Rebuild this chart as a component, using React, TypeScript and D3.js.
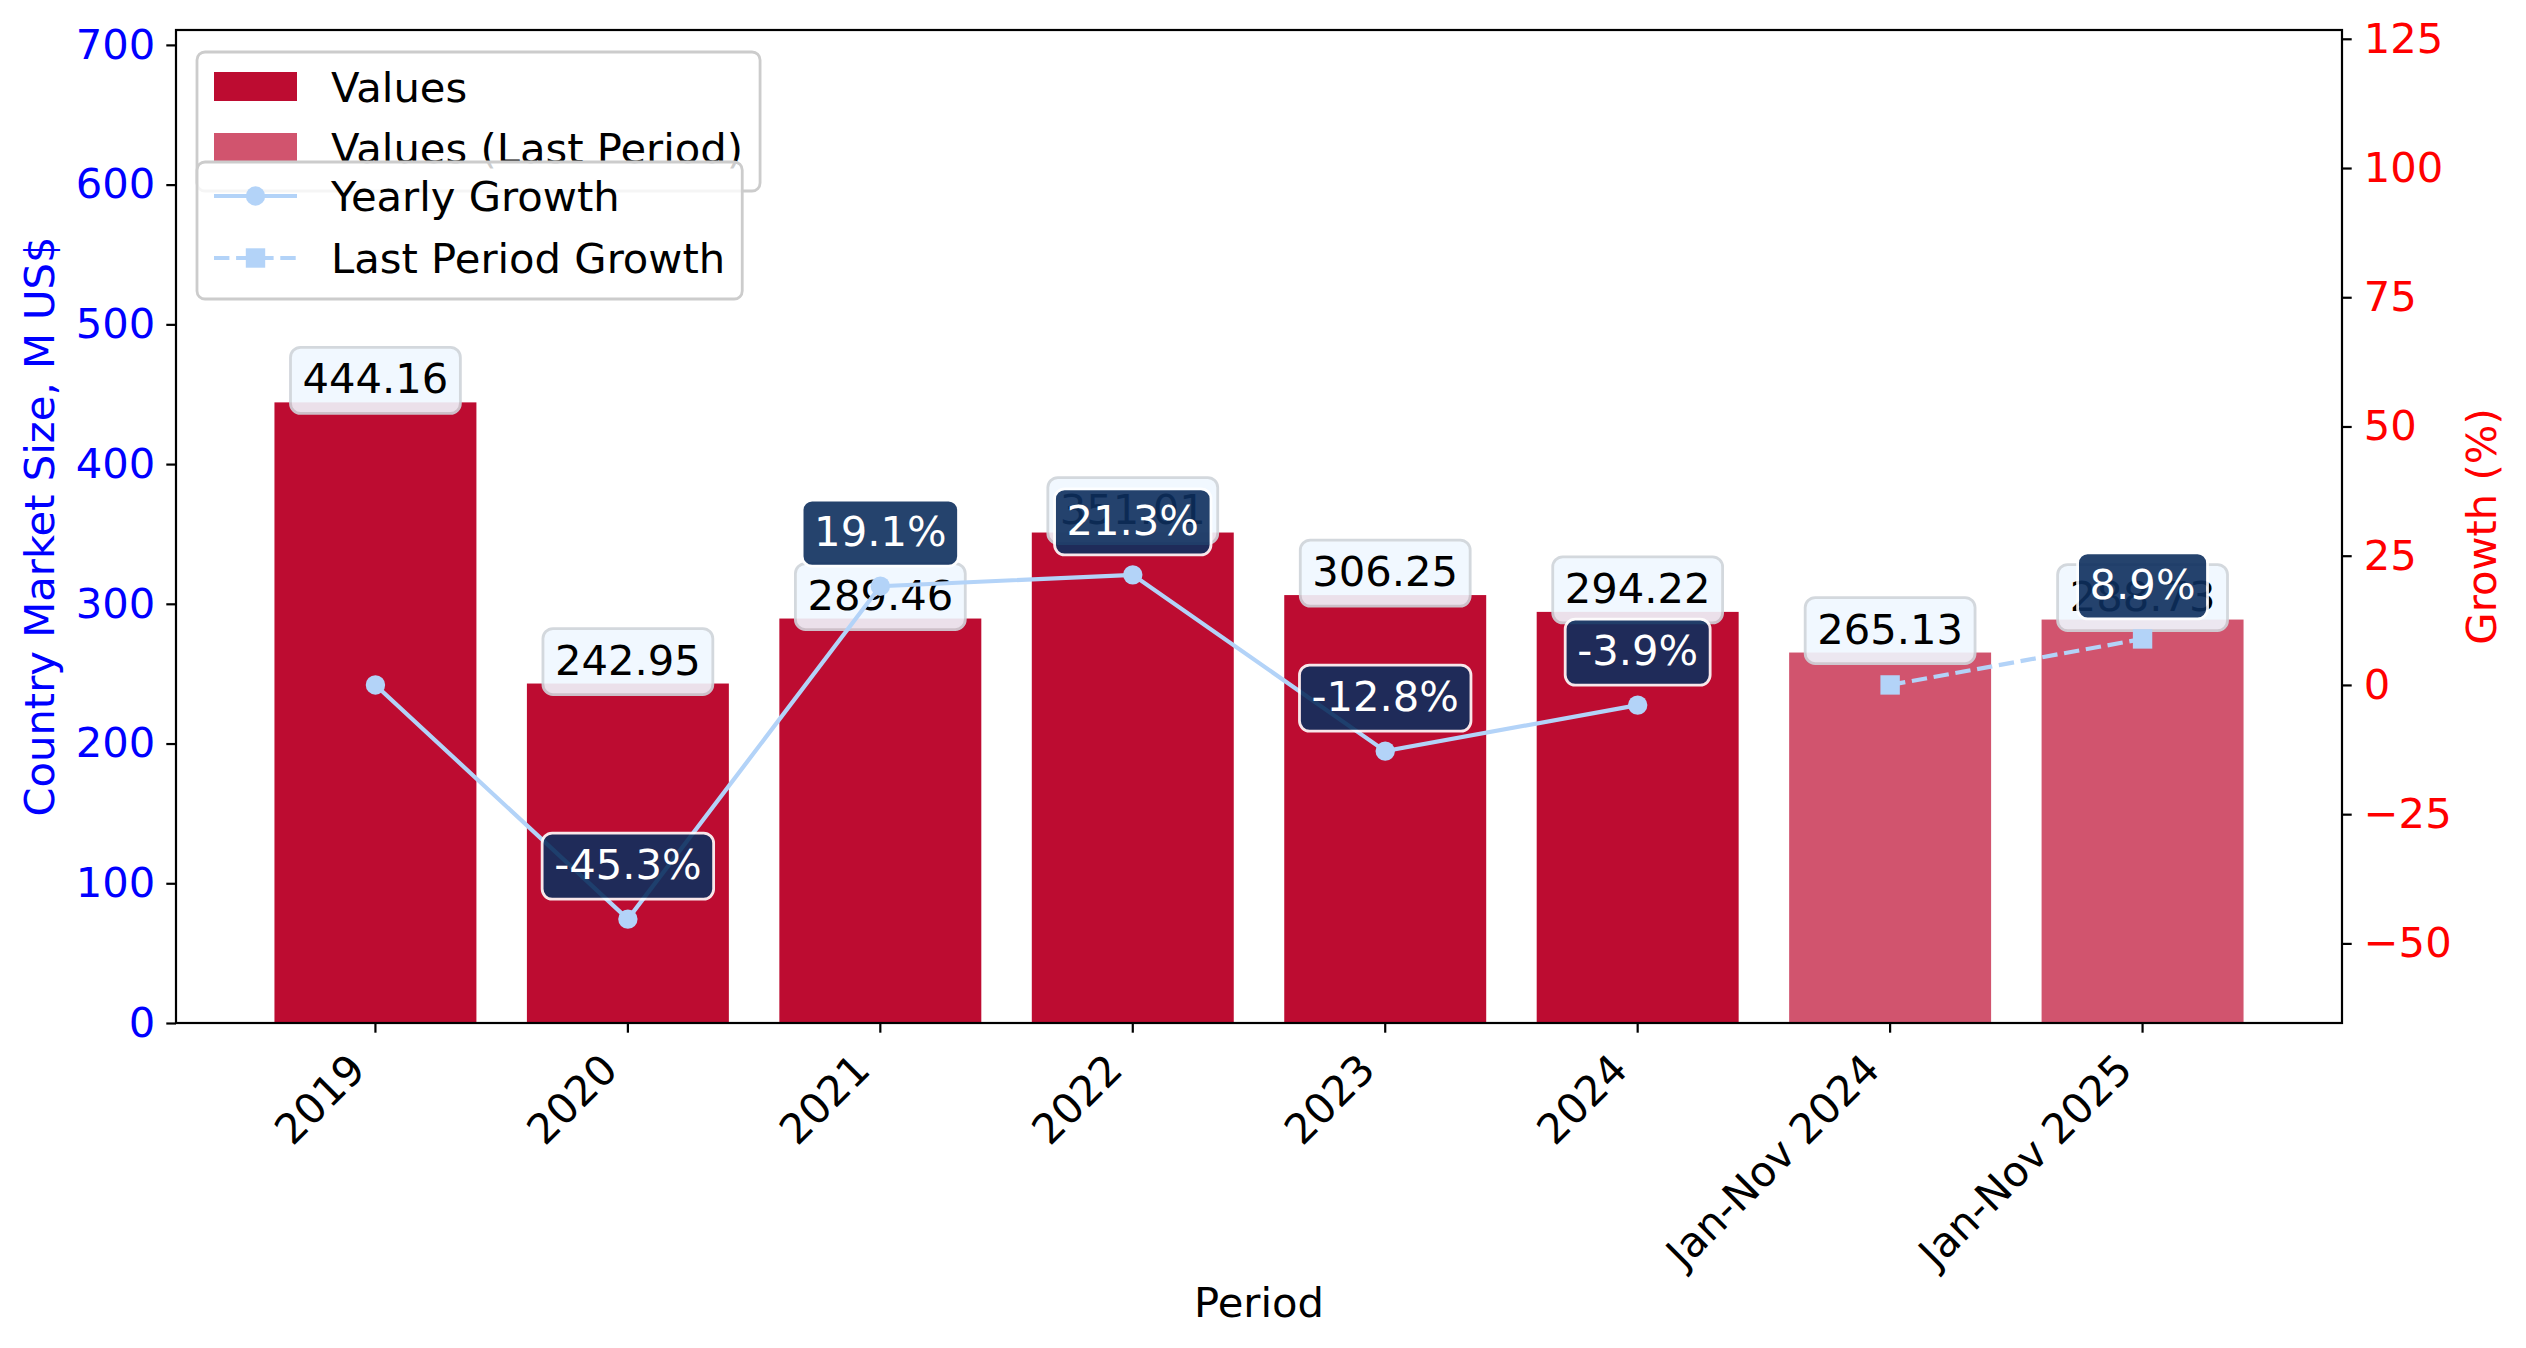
import { useEffect, useRef } from "react";
import * as d3 from "d3";

// Chart data
const periods = [
  "2019",
  "2020",
  "2021",
  "2022",
  "2023",
  "2024",
  "Jan-Nov 2024",
  "Jan-Nov 2025",
];
const values = [444.16, 242.95, 289.46, 351.01, 306.25, 294.22, 265.13, 288.73];
const isLastPeriod = [false, false, false, false, false, false, true, true];

const yearlyPeriods = ["2019", "2020", "2021", "2022", "2023", "2024"];
const yearlyGrowth = [0, -45.3, 19.1, 21.3, -12.8, -3.9];

const lastPeriods = ["Jan-Nov 2024", "Jan-Nov 2025"];
const lastGrowth = [0, 8.9];

const leftTicks = [0, 100, 200, 300, 400, 500, 600, 700];
const rightTicks = [-50, -25, 0, 25, 50, 75, 100, 125];

const barLegend = ["Values", "Values (Last Period)"];
const lineLegend = ["Yearly Growth", "Last Period Growth"];

const BAR = "#bd0c31";
const LINE = "#b3d3f8";
const NAVY = "#0e2f5e";
const FONT = "DejaVu Sans";
const FS = 41.7;

export default function App() {
  const svgRef = useRef<SVGSVGElement>(null);

  useEffect(() => {
    document.body.style.margin = "0";
    document.body.style.overflow = "hidden";
    if (!svgRef.current) return;

    const svg = d3.select(svgRef.current);
    svg.selectAll("*").remove();

    const width = 2526;
    const height = 1348;
    const plot = { left: 176, right: 2342, top: 30, bottom: 1023 };

    svg
      .attr("width", width)
      .attr("height", height)
      .style("font-family", FONT)
      .style("font-size", `${FS}px`);

    const x = d3
      .scaleBand<string>()
      .domain(periods)
      .range([plot.left, plot.right])
      .paddingInner(0.2)
      .paddingOuter(0.39);
    const cx = (p: string) => (x(p) as number) + x.bandwidth() / 2;

    const yLeft = d3
      .scaleLinear()
      .domain([0, 710.66])
      .range([plot.bottom, plot.top]);
    const yRight = d3
      .scaleLinear()
      .domain([-65.4, 126.7])
      .range([plot.bottom, plot.top]);

    // Bars
    svg
      .append("g")
      .selectAll("rect")
      .data(periods)
      .join("rect")
      .attr("x", (d) => x(d) as number)
      .attr("width", x.bandwidth())
      .attr("y", (_, i) => yLeft(values[i]))
      .attr("height", (_, i) => plot.bottom - yLeft(values[i]))
      .attr("fill", BAR)
      .attr("fill-opacity", (_, i) => (isLastPeriod[i] ? 0.7 : 1));

    // Boxed label helper
    const boxedLabel = (
      parent: d3.Selection<SVGGElement, unknown, null, undefined>,
      px: number,
      baseline: number,
      label: string,
      fill: string,
      stroke: string,
      textColor: string
    ) => {
      const g = parent.append("g");
      const rect = g.append("rect");
      const t = g
        .append("text")
        .attr("x", px)
        .attr("y", baseline)
        .attr("text-anchor", "middle")
        .attr("fill", textColor)
        .text(label);
      const w = (t.node() as SVGTextElement).getComputedTextLength();
      rect
        .attr("x", px - w / 2 - 12)
        .attr("y", baseline - 46)
        .attr("width", w + 24)
        .attr("height", 66)
        .attr("rx", 10)
        .attr("fill", fill)
        .attr("stroke", stroke)
        .attr("stroke-width", 2.8)
        .attr("opacity", 0.9);
    };

    // Value labels
    const valueLayer = svg.append("g");
    periods.forEach((p, i) => {
      boxedLabel(
        valueLayer,
        cx(p),
        yLeft(values[i]) - 9,
        values[i].toFixed(2),
        "#f0f8ff",
        "#cfd4da",
        "#000"
      );
    });

    // Legend 1 (bars)
    const legend1 = svg.append("g");
    const l1Top = 52;
    const l1Frame = legend1.append("rect");
    let l1Max = 0;
    barLegend.forEach((name, i) => {
      const rc = l1Top + 34.5 + i * 61;
      legend1
        .append("rect")
        .attr("x", 214)
        .attr("y", rc - 14.5)
        .attr("width", 83)
        .attr("height", 29)
        .attr("fill", BAR)
        .attr("fill-opacity", i === 1 ? 0.7 : 1);
      const t = legend1
        .append("text")
        .attr("x", 331)
        .attr("y", rc + 15)
        .attr("fill", "#000")
        .text(name);
      l1Max = Math.max(l1Max, (t.node() as SVGTextElement).getComputedTextLength());
    });
    l1Frame
      .attr("x", 197)
      .attr("y", l1Top)
      .attr("width", 331 - 197 + l1Max + 17)
      .attr("height", 139)
      .attr("rx", 8)
      .attr("fill", "#fff")
      .attr("fill-opacity", 0.8)
      .attr("stroke", "#cccccc")
      .attr("stroke-width", 2.8);

    // Growth lines
    const lineLayer = svg.append("g");
    const yearlyLine = d3
      .line<number>()
      .x((_, i) => cx(yearlyPeriods[i]))
      .y((d) => yRight(d));
    const lastLine = d3
      .line<number>()
      .x((_, i) => cx(lastPeriods[i]))
      .y((d) => yRight(d));

    lineLayer
      .append("path")
      .datum(yearlyGrowth)
      .attr("d", yearlyLine)
      .attr("fill", "none")
      .attr("stroke", LINE)
      .attr("stroke-width", 4.2);
    lineLayer
      .selectAll("circle")
      .data(yearlyGrowth)
      .join("circle")
      .attr("cx", (_, i) => cx(yearlyPeriods[i]))
      .attr("cy", (d) => yRight(d))
      .attr("r", 9.7)
      .attr("fill", LINE);

    lineLayer
      .append("path")
      .datum(lastGrowth)
      .attr("d", lastLine)
      .attr("fill", "none")
      .attr("stroke", LINE)
      .attr("stroke-width", 4.2)
      .attr("stroke-dasharray", "15.4,6.7");
    lineLayer
      .selectAll("rect.sq")
      .data(lastGrowth)
      .join("rect")
      .attr("class", "sq")
      .attr("x", (_, i) => cx(lastPeriods[i]) - 9.7)
      .attr("y", (d) => yRight(d) - 9.7)
      .attr("width", 19.4)
      .attr("height", 19.4)
      .attr("fill", LINE);

    // Growth labels
    const growthLayer = svg.append("g");
    yearlyGrowth.forEach((g, i) => {
      if (i === 0) return;
      boxedLabel(
        growthLayer,
        cx(yearlyPeriods[i]),
        yRight(g) - 40,
        `${g.toFixed(1)}%`,
        NAVY,
        "#ffffff",
        "#ffffff"
      );
    });
    lastGrowth.forEach((g, i) => {
      if (i === 0) return;
      boxedLabel(
        growthLayer,
        cx(lastPeriods[i]),
        yRight(g) - 40,
        `${g.toFixed(1)}%`,
        NAVY,
        "#ffffff",
        "#ffffff"
      );
    });

    // Legend 2 (lines)
    const legend2 = svg.append("g");
    const l2Top = 162;
    const l2Frame = legend2.append("rect");
    let l2Max = 0;
    lineLegend.forEach((name, i) => {
      const rc = l2Top + 34 + i * 62;
      legend2
        .append("line")
        .attr("x1", 214)
        .attr("x2", 297)
        .attr("y1", rc)
        .attr("y2", rc)
        .attr("stroke", LINE)
        .attr("stroke-width", 4.2)
        .attr("stroke-dasharray", i === 1 ? "15.4,6.7" : null);
      if (i === 0) {
        legend2
          .append("circle")
          .attr("cx", 255.5)
          .attr("cy", rc)
          .attr("r", 9.7)
          .attr("fill", LINE);
      } else {
        legend2
          .append("rect")
          .attr("x", 255.5 - 9.7)
          .attr("y", rc - 9.7)
          .attr("width", 19.4)
          .attr("height", 19.4)
          .attr("fill", LINE);
      }
      const t = legend2
        .append("text")
        .attr("x", 331)
        .attr("y", rc + 15)
        .attr("fill", "#000")
        .text(name);
      l2Max = Math.max(l2Max, (t.node() as SVGTextElement).getComputedTextLength());
    });
    l2Frame
      .attr("x", 197)
      .attr("y", l2Top)
      .attr("width", 331 - 197 + l2Max + 17)
      .attr("height", 137)
      .attr("rx", 8)
      .attr("fill", "#fff")
      .attr("fill-opacity", 0.8)
      .attr("stroke", "#cccccc")
      .attr("stroke-width", 2.8);

    // Left axis
    const leftAxis = svg
      .append("g")
      .attr("transform", `translate(${plot.left},0)`)
      .call(
        d3
          .axisLeft(yLeft)
          .tickValues(leftTicks)
          .tickFormat(d3.format("d"))
          .tickSize(9.7)
          .tickSizeOuter(0)
          .tickPadding(11)
      );
    leftAxis.select(".domain").remove();
    leftAxis.selectAll("line").attr("stroke", "#000").attr("stroke-width", 2.2);
    leftAxis
      .selectAll("text")
      .attr("fill", "#0000ff")
      .style("font-family", FONT)
      .style("font-size", `${FS}px`);

    // Right axis
    const rightAxis = svg
      .append("g")
      .attr("transform", `translate(${plot.right},0)`)
      .call(
        d3
          .axisRight(yRight)
          .tickValues(rightTicks)
          .tickFormat(d3.format("d"))
          .tickSize(9.7)
          .tickSizeOuter(0)
          .tickPadding(12)
      );
    rightAxis.select(".domain").remove();
    rightAxis.selectAll("line").attr("stroke", "#000").attr("stroke-width", 2.2);
    rightAxis
      .selectAll("text")
      .attr("fill", "#ff0000")
      .style("font-family", FONT)
      .style("font-size", `${FS}px`);

    // Bottom axis with rotated labels
    const bottomAxis = svg
      .append("g")
      .attr("transform", `translate(0,${plot.bottom})`)
      .call(d3.axisBottom(x).tickSize(9.7).tickSizeOuter(0));
    bottomAxis.select(".domain").remove();
    bottomAxis.selectAll("line").attr("stroke", "#000").attr("stroke-width", 2.2);
    bottomAxis
      .selectAll("text")
      .attr("x", null)
      .attr("y", null)
      .attr("dy", null)
      .attr("text-anchor", "end")
      .attr("transform", "translate(-8,49) rotate(-45)")
      .attr("fill", "#000")
      .style("font-family", FONT)
      .style("font-size", `${FS}px`);

    // Frame
    svg
      .append("rect")
      .attr("x", plot.left)
      .attr("y", plot.top)
      .attr("width", plot.right - plot.left)
      .attr("height", plot.bottom - plot.top)
      .attr("fill", "none")
      .attr("stroke", "#000")
      .attr("stroke-width", 2.2);

    // Axis titles
    svg
      .append("text")
      .attr("transform", `translate(54,${(plot.top + plot.bottom) / 2}) rotate(-90)`)
      .attr("text-anchor", "middle")
      .attr("fill", "#0000ff")
      .text("Country Market Size, M US$");
    svg
      .append("text")
      .attr("transform", `translate(2496,${(plot.top + plot.bottom) / 2}) rotate(-90)`)
      .attr("text-anchor", "middle")
      .attr("fill", "#ff0000")
      .text("Growth (%)");
    svg
      .append("text")
      .attr("x", (plot.left + plot.right) / 2)
      .attr("y", 1317)
      .attr("text-anchor", "middle")
      .attr("fill", "#000")
      .text("Period");
  }, []);

  return <svg ref={svgRef} style={{ display: "block", background: "#fff" }} />;
}
